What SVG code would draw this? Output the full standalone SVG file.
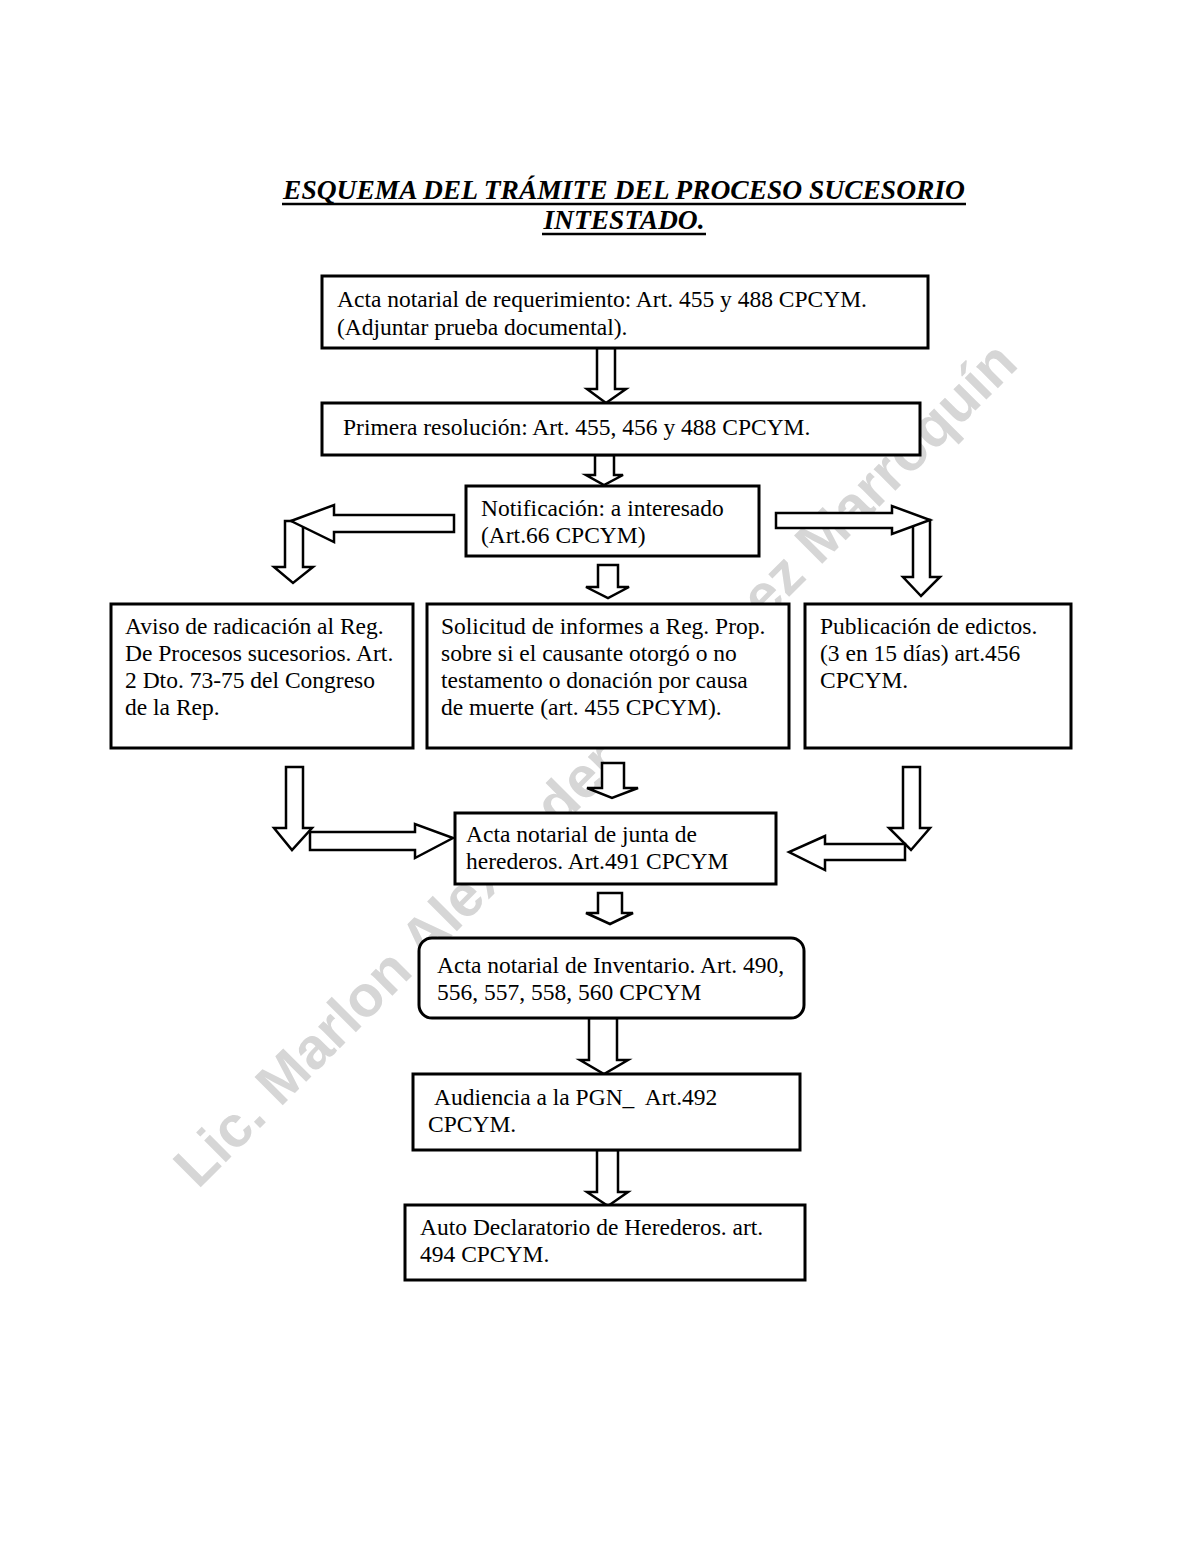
<svg xmlns="http://www.w3.org/2000/svg" width="1200" height="1553" viewBox="0 0 1200 1553">
<style>
.bg{fill:#ffffff}
.box{fill:#ffffff;stroke:#000000;stroke-width:3}
.arr{fill:#ffffff;stroke:#000000;stroke-width:2.5;stroke-linejoin:miter}
.t{font-family:"Liberation Serif","Times New Roman",serif;font-size:23.5px;fill:#000000}
.title{font-family:"Liberation Serif","Times New Roman",serif;font-size:27.5px;font-weight:bold;font-style:italic;fill:#000000}
.ul{stroke:#000000;stroke-width:2.5}
.wm{font-family:"Liberation Sans",Arial,sans-serif;font-size:58px;font-weight:bold;fill:#d6d6d6}
</style>
<rect class="bg" x="0" y="0" width="1200" height="1553"/>

<g id="title">
<text class="title" x="624" y="199" text-anchor="middle">ESQUEMA DEL TRÁMITE DEL PROCESO SUCESORIO</text>
<line class="ul" x1="282" y1="204" x2="966" y2="204"/>
<text class="title" x="624" y="229" text-anchor="middle">INTESTADO.</text>
<line class="ul" x1="542" y1="234" x2="706" y2="234"/>
</g>

<g id="watermark">
<text class="wm" transform="translate(198,1190) rotate(-45)">Lic. Marlon Alexander</text>
<text class="wm" text-anchor="end" transform="translate(1020,366) rotate(-45)">ez Marroquín</text>
</g>

<g id="connectors">
<polygon class="arr" points="597,348 615,348 615,389 626,389 606,403 587,389 597,389"/>
<polygon class="arr" points="595,455 614,455 614,475 623,475 604,485 586,475 595,475"/>
<polygon class="arr" points="285,521 303,521 303,567 313,567 293,583 274,567 285,567"/>
<polygon class="arr" points="454,515 334,515 334,505 291,521 334,542 334,532 454,532"/>
<polygon class="arr" points="913,520 930,520 930,577 940,577 921,596 903,577 913,577"/>
<polygon class="arr" points="776,513 892,513 892,506 930,520 892,534 892,528 776,528"/>
<polygon class="arr" points="598,565 618,565 618,587 629,587 608,598 586,587 598,587"/>
<polygon class="arr" points="286,767 303,767 303,828 312,828 292,850 274,828 286,828"/>
<polygon class="arr" points="310,832 415,832 415,824 453,838 415,858 415,850 310,850"/>
<polygon class="arr" points="602,763 624,763 624,788 638,788 612,798 587,788 602,788"/>
<polygon class="arr" points="903,767 920,767 920,828 930,828 911,850 889,828 903,828"/>
<polygon class="arr" points="905,844 825,844 825,836 789,852 825,870 825,860 905,860"/>
<polygon class="arr" points="598,893 622,893 622,913 633,913 610,924 586,913 598,913"/>
<polygon class="arr" points="589,1018 617,1018 617,1060 628,1060 604,1074 580,1060 589,1060"/>
<polygon class="arr" points="597,1150 618,1150 618,1192 628,1192 608,1206 587,1192 597,1192"/>
</g>

<g id="n1">
<rect class="box" x="322" y="276" width="606" height="72"/>
<text class="t" x="337" y="307">Acta notarial de requerimiento: Art. 455 y 488 CPCYM.</text>
<text class="t" x="337" y="335">(Adjuntar prueba documental).</text>
</g>

<g id="n2">
<rect class="box" x="322" y="403" width="598" height="52"/>
<text class="t" x="343" y="435">Primera resolución: Art. 455, 456 y 488 CPCYM.</text>
</g>

<g id="n3">
<rect class="box" x="466" y="486" width="293" height="70"/>
<text class="t" x="481" y="516">Notificación: a interesado</text>
<text class="t" x="481" y="543">(Art.66 CPCYM)</text>
</g>

<g id="n4">
<rect class="box" x="111" y="604" width="302" height="144"/>
<text class="t" x="125" y="634">Aviso de radicación al Reg.</text>
<text class="t" x="125" y="661">De Procesos sucesorios. Art.</text>
<text class="t" x="125" y="688">2 Dto. 73-75 del Congreso</text>
<text class="t" x="125" y="715">de la Rep.</text>
</g>

<g id="n5">
<rect class="box" x="427" y="604" width="362" height="144"/>
<text class="t" x="441" y="634">Solicitud de informes a Reg. Prop.</text>
<text class="t" x="441" y="661">sobre si el causante otorgó o no</text>
<text class="t" x="441" y="688">testamento o donación por causa</text>
<text class="t" x="441" y="715">de muerte (art. 455 CPCYM).</text>
</g>

<g id="n6">
<rect class="box" x="805" y="604" width="266" height="144"/>
<text class="t" x="820" y="634">Publicación de edictos.</text>
<text class="t" x="820" y="661">(3 en 15 días) art.456</text>
<text class="t" x="820" y="688">CPCYM.</text>
</g>

<g id="n7">
<rect class="box" x="455" y="813" width="321" height="71"/>
<text class="t" x="466" y="842">Acta notarial de junta de</text>
<text class="t" x="466" y="869">herederos. Art.491 CPCYM</text>
</g>

<g id="n8">
<rect class="box" x="419" y="938" width="385" height="80" rx="13" ry="13"/>
<text class="t" x="437" y="973">Acta notarial de Inventario. Art. 490,</text>
<text class="t" x="437" y="1000">556, 557, 558, 560 CPCYM</text>
</g>

<g id="n9">
<rect class="box" x="413" y="1074" width="387" height="76"/>
<text class="t" x="434" y="1105" xml:space="preserve">Audiencia a la PGN_  Art.492</text>
<text class="t" x="428" y="1132">CPCYM.</text>
</g>

<g id="n10">
<rect class="box" x="405" y="1205" width="400" height="75"/>
<text class="t" x="420" y="1235">Auto Declaratorio de Herederos. art.</text>
<text class="t" x="420" y="1262">494 CPCYM.</text>
</g>
</svg>
